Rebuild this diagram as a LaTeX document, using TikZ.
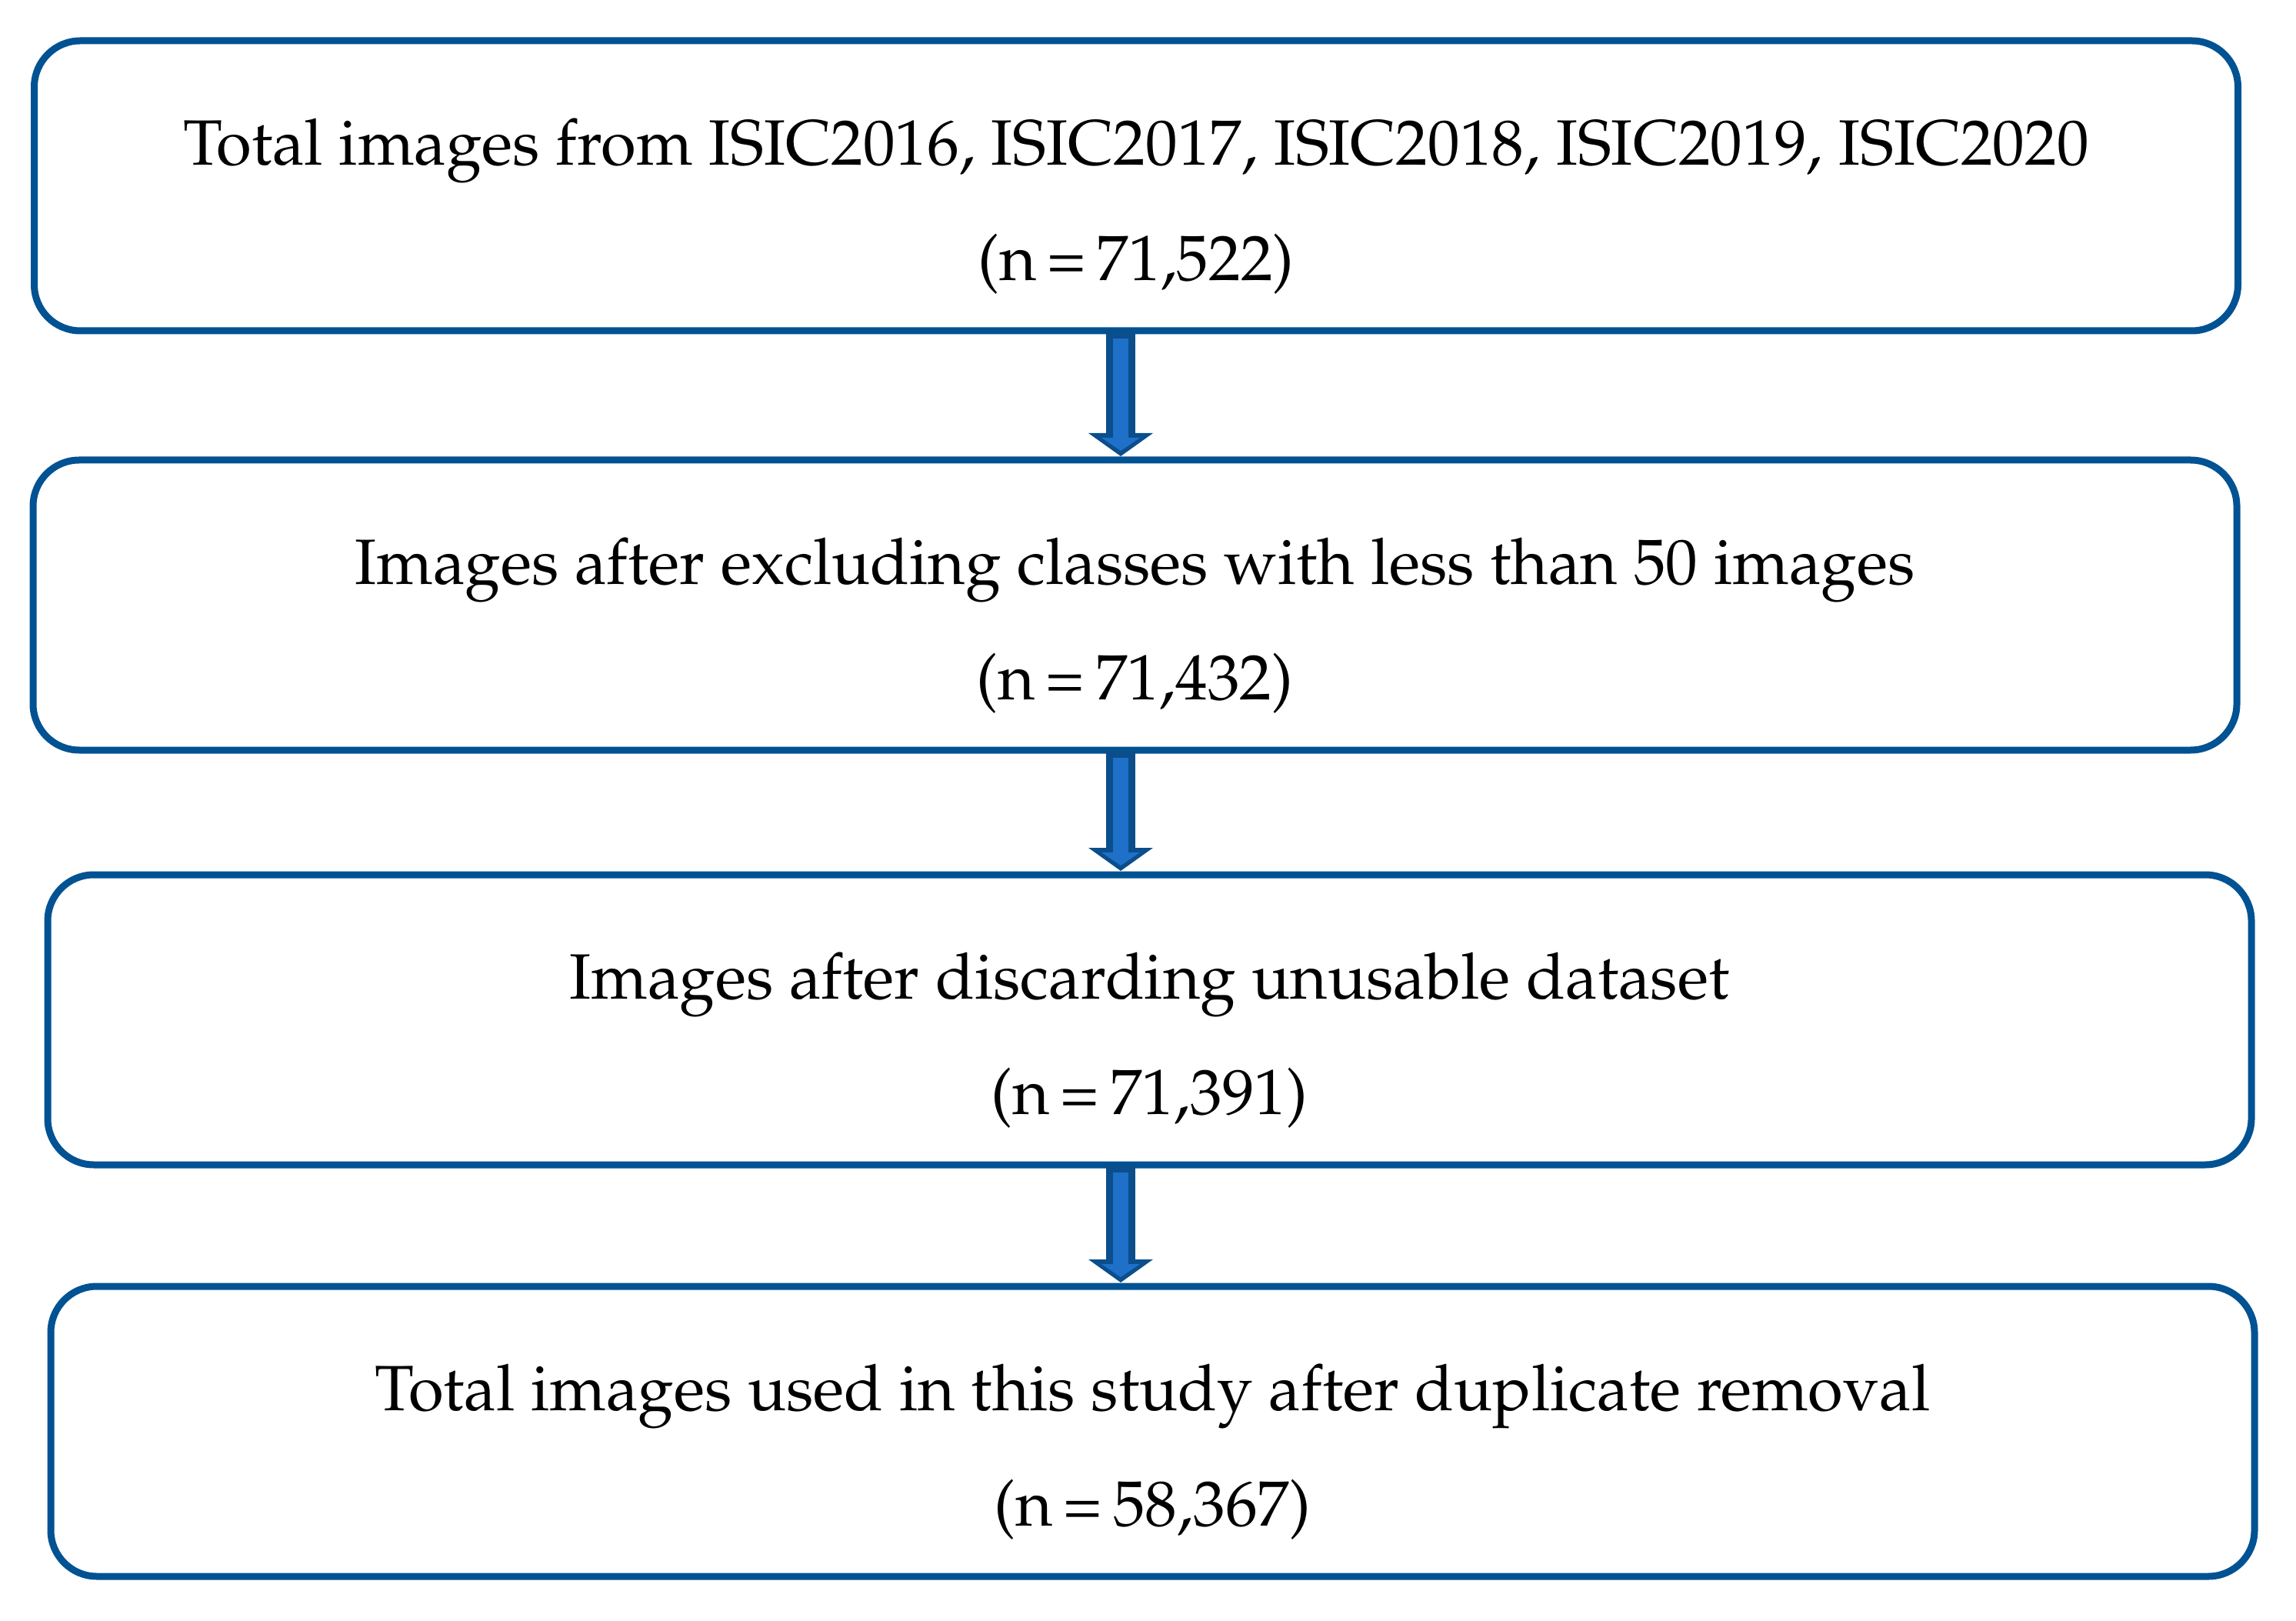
\documentclass[tikz,border=0pt]{standalone}
\usepackage[T1]{fontenc}
\usepackage{mathpazo}
\usetikzlibrary{arrows.meta}
\definecolor{boxblue}{RGB}{0,82,147}
\definecolor{arrowfill}{RGB}{30,112,200}
\definecolor{arrowline}{RGB}{10,78,140}
\tikzset{
  stagebox/.style={draw=boxblue, line width=0.09cm, rounded corners=0.6cm,
    minimum width=28.65cm, minimum height=3.77cm, outer sep=0pt,
    align=center, text height=2.63cm, font=\fontsize{23.7}{42.7}\selectfont},
  arrowout/.style={draw=arrowline, line width=0.38cm,
    -{Triangle[length=0.3cm,width=0.84cm,line width=0pt]}, shorten >=0.05cm},
  arrowin/.style={draw=arrowfill, line width=0.2cm,
    -{Triangle[length=0.17cm,width=0.5cm,line width=0pt]}, shorten >=0.12cm, shorten <=0.1cm}
}
\begin{document}
\begin{tikzpicture}
  \useasboundingbox (0,0) rectangle (29.85,21.06);
  \node[stagebox] (total) at (14.77,18.645)
    {Total images from ISIC2016, ISIC2017, ISIC2018, ISIC2019, ISIC2020\\(n\,=\,71,522)};
  \node[stagebox] (exclude) at (14.755,13.195)
    {Images after excluding classes with less than 50 images\\(n\,=\,71,432)};
  \node[stagebox] (discard) at (14.945,7.805)
    {Images after discarding unusable dataset\\(n\,=\,71,391)};
  \node[stagebox] (final) at (14.985,2.455)
    {Total images used in this study after duplicate removal\\(n\,=\,58,367)};
  \coordinate (ax) at (14.57,0);
  % block arrows between the stages
  \foreach \a/\b in {total/exclude, exclude/discard, discard/final} {
    \draw[arrowout] (\a.south -| ax) -- (\b.north -| ax);
    \draw[arrowin] (\a.south -| ax) -- (\b.north -| ax);
  }
\end{tikzpicture}
\end{document}
